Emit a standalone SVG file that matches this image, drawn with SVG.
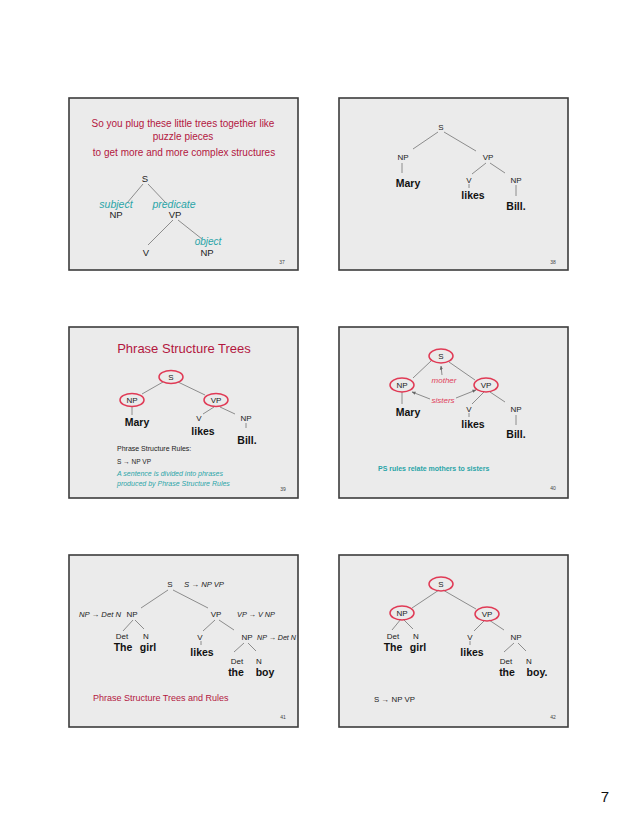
<svg xmlns="http://www.w3.org/2000/svg" width="638" height="826" viewBox="0 0 638 826">
<defs>
<style>
.bg{fill:#ffffff}
.slide{fill:#ebebeb;stroke:#3c3c3c;stroke-width:1.6}
text{font-family:"Liberation Sans",Arial,sans-serif;fill:#222}
.c{text-anchor:middle}
.e{text-anchor:end}
.s8{font-size:8px}
.s9{font-size:9.5px}
.s7{font-size:7px}
.b{font-size:10.5px;font-weight:bold;fill:#111}
.it{font-style:italic}
.teal{fill:#2aa5a8}
.red{fill:#b3173f}
.pink{fill:#e0405a}
.pg{font-size:5px;fill:#444}
.edge{stroke:#8c8c8c;stroke-width:1;fill:none}
.ring{fill:none;stroke:#e03a55;stroke-width:1.5}
</style>
<marker id="ah" viewBox="0 0 10 10" refX="9" refY="5" markerWidth="4" markerHeight="4" orient="auto">
<path d="M0,1 L10,5 L0,9 z" fill="#666"/>
</marker>
</defs>
<rect class="bg" x="0" y="0" width="638" height="826"/>

<!-- slide frames -->
<g id="frames">
<rect class="slide" x="69" y="98" width="229" height="172"/>
<rect class="slide" x="339" y="98" width="229" height="172"/>
<rect class="slide" x="69" y="327" width="229" height="171"/>
<rect class="slide" x="339" y="327" width="229" height="171"/>
<rect class="slide" x="69" y="555" width="229" height="172"/>
<rect class="slide" x="339" y="555" width="229" height="172"/>
</g>

<!-- connectors -->
<g id="connectors">
<!-- slide 37 -->
<path class="edge" d="M143,184 L127,203 M148,184 L166,203 M173,220 L148,245 M178,220 L202,239"/>
<!-- slide 38 -->
<path class="edge" d="M438,132 L413,149 M444,132 L476,151 M402,163 L402,173 M486,163 L472,174 M490,163 L505,173 M469,184 L469,188 M516,185 L516,196"/>
<!-- slide 39 -->
<path class="edge" d="M163,382 L142,394 M178,382 L205,395 M132,407 L132,415 M214,407 L203,414 M220,407 L235,414 M246,423 L246,428"/>
<!-- slide 40 -->
<path class="edge" d="M431,361 L413,378 M449,362 L475,380 M402,392 L402,404 M484,392 L472,404 M490,392 L505,402 M469,413 L469,417 M516,415 L516,425"/>
<path class="edge" marker-end="url(#ah)" d="M442,375 L441,366"/>
<path class="edge" marker-end="url(#ah)" d="M430,399 L412,392"/>
<path class="edge" marker-end="url(#ah)" d="M456,398 L476,390"/>
<!-- slide 41 -->
<path class="edge" d="M168,590 L141,608 M173,590 L208,608 M133,620 L123,631 M135,620 L144,629 M215,620 L203,631 M219,620 L234,630 M201,641 L201,645 M244,643 L234,652 M248,643 L256,651"/>
<!-- slide 42 -->
<path class="edge" d="M439,590 L412,608 M443,590 L476,609 M401,619 L392,630 M403,619 L413,629 M485,620 L474,631 M489,620 L504,630 M470,641 L470,645 M514,643 L504,652 M518,643 L526,651"/>
</g>

<!-- Slide 37 -->
<g id="slide37">
<text class="red c" x="183" y="127" font-size="10">So you plug these little trees together like</text>
<text class="red c" x="183" y="140" font-size="10">puzzle pieces</text>
<text class="red c" x="184" y="156" font-size="10">to get more and more complex structures</text>
<g id="s37-S"><text class="s9 c" x="145" y="182">S</text></g>
<g id="s37-NP"><text class="teal it c" x="116" y="208" font-size="10.5">subject</text><text class="s9 c" x="116" y="218">NP</text></g>
<g id="s37-VP"><text class="teal it c" x="174" y="208" font-size="10.5">predicate</text><text class="s9 c" x="175" y="218">VP</text></g>
<g id="s37-V"><text class="s9 c" x="146" y="256">V</text></g>
<g id="s37-NP2"><text class="teal it c" x="208" y="245" font-size="10">object</text><text class="s9 c" x="207" y="256">NP</text></g>
<text class="pg c" x="282" y="264">37</text>
</g>

<!-- Slide 38 -->
<g id="slide38">
<g id="s38-S"><text class="s8 c" x="441" y="130">S</text></g>
<g id="s38-NP"><text class="s8 c" x="403" y="160">NP</text></g>
<g id="s38-VP"><text class="s8 c" x="488" y="160">VP</text></g>
<g id="s38-Mary"><text class="b c" x="408" y="187">Mary</text></g>
<g id="s38-V"><text class="s8 c" x="469" y="183">V</text></g>
<g id="s38-NP2"><text class="s8 c" x="516" y="183">NP</text></g>
<g id="s38-likes"><text class="b c" x="473" y="199">likes</text></g>
<g id="s38-Bill"><text class="b c" x="516" y="210">Bill.</text></g>
<text class="pg c" x="553" y="264">38</text>
</g>

<!-- Slide 39 -->
<g id="slide39">
<text class="red c" x="184" y="353" font-size="13">Phrase Structure Trees</text>
<g id="s39-S"><ellipse class="ring" cx="171" cy="377" rx="12" ry="6.5"/><text class="s8 c" x="171" y="380">S</text></g>
<g id="s39-NP"><ellipse class="ring" cx="132" cy="400" rx="12" ry="6.5"/><text class="s8 c" x="132" y="403">NP</text></g>
<g id="s39-VP"><ellipse class="ring" cx="216" cy="400" rx="12" ry="6.5"/><text class="s8 c" x="216" y="403">VP</text></g>
<g id="s39-Mary"><text class="b c" x="137" y="426">Mary</text></g>
<g id="s39-V"><text class="s8 c" x="199" y="421">V</text></g>
<g id="s39-NP2"><text class="s8 c" x="246" y="421">NP</text></g>
<g id="s39-likes"><text class="b c" x="203" y="435">likes</text></g>
<g id="s39-Bill"><text class="b c" x="247" y="444">Bill.</text></g>
<text class="s7" x="117" y="451">Phrase Structure Rules:</text>
<text class="s7" x="117" y="464" textLength="34" lengthAdjust="spacingAndGlyphs">S → NP VP</text>
<text class="s7 it teal" x="117" y="476">A sentence is divided into phrases</text>
<text class="s7 it teal" x="117" y="486">produced by Phrase Structure Rules</text>
<text class="pg c" x="283" y="491">39</text>
</g>

<!-- Slide 40 -->
<g id="slide40">
<g id="s40-S"><ellipse class="ring" cx="441" cy="356" rx="12" ry="7"/><text class="s8 c" x="441" y="359">S</text></g>
<g id="s40-NP"><ellipse class="ring" cx="402" cy="385" rx="12" ry="7"/><text class="s8 c" x="402" y="388">NP</text></g>
<g id="s40-VP"><ellipse class="ring" cx="486" cy="385" rx="12" ry="7"/><text class="s8 c" x="486" y="388">VP</text></g>
<text class="s8 it pink c" x="444" y="383">mother</text>
<text class="s8 it pink c" x="443" y="403">sisters</text>
<g id="s40-Mary"><text class="b c" x="408" y="416">Mary</text></g>
<g id="s40-V"><text class="s8 c" x="469" y="412">V</text></g>
<g id="s40-NP2"><text class="s8 c" x="516" y="412">NP</text></g>
<g id="s40-likes"><text class="b c" x="473" y="428">likes</text></g>
<g id="s40-Bill"><text class="b c" x="516" y="438">Bill.</text></g>
<text class="s7 teal" x="378" y="471" font-weight="bold">PS rules relate mothers to sisters</text>
<text class="pg c" x="553" y="490">40</text>
</g>

<!-- Slide 41 -->
<g id="slide41">
<g id="s41-S"><text class="s8 c" x="170" y="587">S</text><text class="s8 it" x="184" y="587" textLength="40" lengthAdjust="spacingAndGlyphs">S → NP VP</text></g>
<g id="s41-NP"><text class="s8 c" x="132" y="617">NP</text><text class="s8 it" x="79" y="617" textLength="42" lengthAdjust="spacingAndGlyphs">NP → Det N</text></g>
<g id="s41-VP"><text class="s8 c" x="216" y="617">VP</text><text class="s8 it" x="237" y="617" textLength="38" lengthAdjust="spacingAndGlyphs">VP → V NP</text></g>
<g id="s41-Det"><text class="s8 c" x="122" y="639">Det</text><text class="b c" x="123" y="651">The</text></g>
<g id="s41-N"><text class="s8 c" x="146" y="639">N</text><text class="b c" x="148" y="651">girl</text></g>
<g id="s41-V"><text class="s8 c" x="200" y="640">V</text><text class="b c" x="202" y="656">likes</text></g>
<g id="s41-NP2"><text class="s8 c" x="247" y="640">NP</text><text class="s8 it" x="257" y="640" textLength="39" lengthAdjust="spacingAndGlyphs">NP → Det N</text></g>
<g id="s41-Det2"><text class="s8 c" x="237" y="664">Det</text><text class="b c" x="236" y="676">the</text></g>
<g id="s41-N2"><text class="s8 c" x="259" y="664">N</text><text class="b c" x="265" y="676">boy</text></g>
<text class="red" x="93" y="701" font-size="9">Phrase Structure Trees and Rules</text>
<text class="pg c" x="283" y="719">41</text>
</g>

<!-- Slide 42 -->
<g id="slide42">
<g id="s42-S"><ellipse class="ring" cx="441" cy="584" rx="12" ry="7"/><text class="s8 c" x="441" y="587">S</text></g>
<g id="s42-NP"><ellipse class="ring" cx="402" cy="613" rx="12" ry="7"/><text class="s8 c" x="402" y="616">NP</text></g>
<g id="s42-VP"><ellipse class="ring" cx="487" cy="614" rx="12" ry="7"/><text class="s8 c" x="487" y="617">VP</text></g>
<g id="s42-Det"><text class="s8 c" x="393" y="639">Det</text><text class="b c" x="393" y="651">The</text></g>
<g id="s42-N"><text class="s8 c" x="416" y="639">N</text><text class="b c" x="418" y="651">girl</text></g>
<g id="s42-V"><text class="s8 c" x="470" y="640">V</text><text class="b c" x="472" y="656">likes</text></g>
<g id="s42-NP2"><text class="s8 c" x="516" y="640">NP</text></g>
<g id="s42-Det2"><text class="s8 c" x="506" y="664">Det</text><text class="b c" x="507" y="676">the</text></g>
<g id="s42-N2"><text class="s8 c" x="529" y="664">N</text><text class="b c" x="537" y="676">boy.</text></g>
<text class="s7" x="374" y="702" textLength="41" lengthAdjust="spacingAndGlyphs">S → NP VP</text>
<text class="pg c" x="553" y="719">42</text>
</g>

<text x="605" y="802" font-size="15" class="c" style="fill:#111">7</text>
</svg>
